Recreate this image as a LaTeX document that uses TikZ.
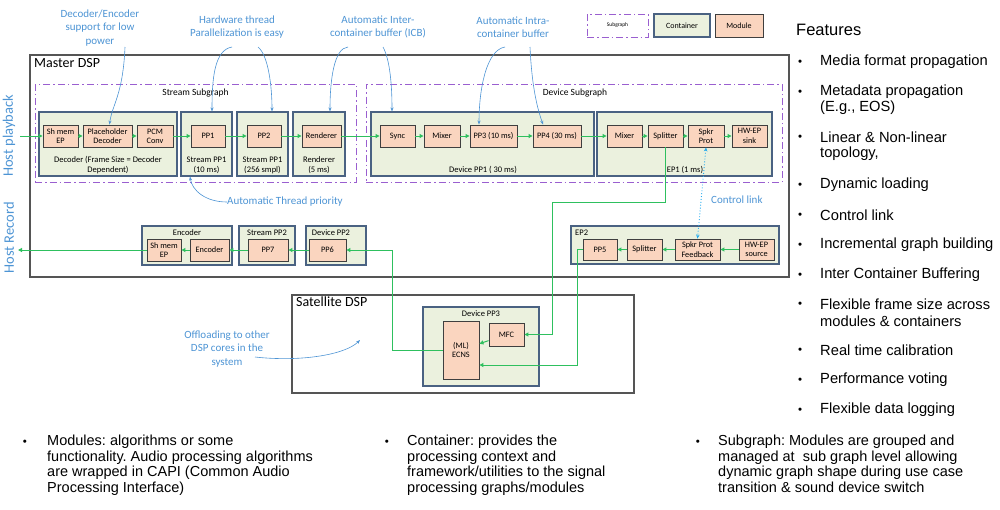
\documentclass[tikz,border=0pt]{standalone}
\usepackage{fontspec}
\setmainfont{Carlito}
\newfontfamily\arialf{Liberation Sans}
\usetikzlibrary{arrows.meta,calc}
\frenchspacing
\definecolor{contfill}{HTML}{EBF1DE}
\definecolor{contdraw}{HTML}{4A6282}
\definecolor{modfill}{HTML}{FAD5BF}
\definecolor{moddraw}{HTML}{3F3F3F}
\definecolor{sgdraw}{HTML}{9A5FD0}
\definecolor{flow}{HTML}{2EC05E}
\definecolor{note}{HTML}{4D94D4}
\definecolor{ctrl}{HTML}{22AAEE}
\definecolor{dspdraw}{HTML}{555555}
\tikzset{
  module/.style={draw=moddraw, fill=modfill, line width=0.9pt, inner sep=0pt, align=center, font=\fontsize{8.3}{9.3}\selectfont},
  container/.style={draw=contdraw, fill=contfill, line width=1.1pt, inner sep=0pt},
  subgraph/.style={draw=sgdraw, line width=1pt, dash pattern=on 7pt off 3pt on 1.5pt off 3pt, inner sep=0pt},
  dsp/.style={draw=dspdraw, line width=1.1pt, inner sep=0pt},
  lbl/.style={inner sep=0pt, align=center, font=\fontsize{8.5}{10}\selectfont},
  sglbl/.style={inner sep=0pt, align=center, font=\fontsize{9.5}{11}\selectfont},
  dsplbl/.style={inner sep=0pt, anchor=north west, font=\fontsize{14}{15}\selectfont},
  flowline/.style={draw=flow, line width=1pt, -{Triangle[length=4pt,width=4pt]}},
  noteline/.style={draw=note, line width=0.6pt, -{Stealth[length=4pt,width=3pt]}},
  notetxt/.style={text=note, inner sep=0pt, align=center, font=\fontsize{11}{13.5}\selectfont},
  hosttxt/.style={text=note, inner sep=0pt, rotate=90, font=\fontsize{14.5}{16}\selectfont},
  feat/.style={inner sep=0pt, anchor=west, font=\arialf\fontsize{14.7}{17}\selectfont},
  bul/.style={inner sep=0pt, anchor=base, font=\arialf\fontsize{11.5}{12}\selectfont},
  bot/.style={inner sep=0pt, anchor=north west, align=left, font=\arialf\fontsize{14.5}{15.5}\selectfont},
}
\begin{document}
\begin{tikzpicture}[x=1pt,y=-1pt]
\useasboundingbox (0,0) rectangle (1000,509);

% legend
\node[subgraph, minimum width=61, minimum height=23, font=\fontsize{5.5}{6}\selectfont] (lsg) at (617.5,25.5) {Subgraph};
\node[container, minimum width=56, minimum height=23, font=\fontsize{8}{9}\selectfont] (lct) at (682,25.5) {Container};
\node[module, minimum width=48, minimum height=23, font=\fontsize{8}{9}\selectfont] (lmd) at (739,25.5) {Module};

% Master DSP
\node[dsp, minimum width=759, minimum height=222] (master) at (409.5,166) {};
\node[dsplbl] (masterl) at (34,58) {Master DSP};

% subgraphs
\node[subgraph, minimum width=321, minimum height=98] (ssg) at (195.5,133) {};
\node[sglbl] (ssgl) at (195.5,93) {Stream Subgraph};
\node[subgraph, minimum width=416, minimum height=98] (dsg) at (574,133) {};
\node[sglbl] (dsgl) at (575,93) {Device Subgraph};

% containers (top row)
\node[container, minimum width=138, minimum height=64] (dec) at (108,144) {};
\node[container, minimum width=51, minimum height=64] (spp1) at (206.5,144) {};
\node[container, minimum width=51, minimum height=64] (spp1b) at (262.5,144) {};
\node[container, minimum width=52, minimum height=64] (renc) at (319,144) {};
\node[container, minimum width=223, minimum height=64] (dpp1) at (482.5,144) {};
\node[container, minimum width=175, minimum height=64] (ep1) at (684.5,144) {};

\node[lbl] (decl) at (108,165) {Decoder (Frame Size = Decoder\\Dependent)};
\node[lbl] (spp1l) at (206.5,165) {Stream PP1\\(10 ms)};
\node[lbl] (spp1bl) at (262.5,165) {Stream PP1\\(256 smpl)};
\node[lbl] (rencl) at (319,165) {Renderer\\(5 ms)};
\node[lbl] (dpp1l) at (483,170) {Device PP1 ( 30 ms)};
\node[lbl] (ep1l) at (685,170) {EP1 (1 ms)};

% modules (top row)
\node[module, minimum width=35, minimum height=22] (shm) at (60.5,136) {Sh mem\\EP};
\node[module, minimum width=49, minimum height=22] (phd) at (107.5,136) {Placeholder\\Decoder};
\node[module, minimum width=36, minimum height=22] (pcm) at (155,136) {PCM\\Conv};
\node[module, minimum width=34, minimum height=22] (pp1) at (208,136) {PP1};
\node[module, minimum width=34, minimum height=22] (pp2) at (264,136) {PP2};
\node[module, minimum width=39, minimum height=22] (ren) at (321.5,136) {Renderer};
\node[module, minimum width=35, minimum height=22] (sync) at (397.5,136) {Sync};
\node[module, minimum width=36, minimum height=22] (mix1) at (442,136) {Mixer};
\node[module, minimum width=47, minimum height=22] (pp3) at (493.5,136) {PP3 (10 ms)};
\node[module, minimum width=48, minimum height=22] (pp4) at (557,136) {PP4 (30 ms)};
\node[module, minimum width=35, minimum height=22] (mix2) at (624.5,136) {Mixer};
\node[module, minimum width=35, minimum height=22] (spl) at (665.5,136) {Splitter};
\node[module, minimum width=36, minimum height=22] (spk) at (706,136) {Spkr\\Prot};
\node[module, minimum width=35, minimum height=22] (hws) at (749.5,136) {HW-EP\\sink};

% bottom row containers
\node[container, minimum width=90, minimum height=39] (encc) at (187,245.5) {};
\node[container, minimum width=56, minimum height=39] (spp2) at (267,245.5) {};
\node[container, minimum width=60, minimum height=39] (dpp2) at (336,245.5) {};
\node[container, minimum width=208, minimum height=38] (ep2) at (675,245) {};
\node[lbl] (enccl) at (187,233) {Encoder};
\node[lbl] (spp2l) at (267,233) {Stream PP2};
\node[lbl] (dpp2l) at (331,233) {Device PP2};
\node[lbl, anchor=west] (ep2l) at (575,233) {EP2};

\node[module, minimum width=34, minimum height=22] (eshm) at (164,250) {Sh mem\\EP};
\node[module, minimum width=39, minimum height=22] (enc) at (209.5,250) {Encoder};
\node[module, minimum width=40, minimum height=22] (pp7) at (268,250) {PP7};
\node[module, minimum width=37, minimum height=22] (pp6) at (327.5,250) {PP6};
\node[module, minimum width=34, minimum height=21] (pp5) at (600,249.5) {PP5};
\node[module, minimum width=35, minimum height=21] (spl2) at (644.5,249.5) {Splitter};
\node[module, minimum width=45, minimum height=21] (spf) at (697.5,249.5) {Spkr Prot\\Feedback};
\node[module, minimum width=35, minimum height=21] (hwsrc) at (756.5,249.5) {HW-EP\\source};

% Satellite DSP
\node[dsp, minimum width=342, minimum height=98] (sat) at (463,344) {};
\node[dsplbl] (satl) at (296,297) {Satellite DSP};
\node[container, minimum width=116, minimum height=79] (dpp3) at (481,346.5) {};
\node[lbl] (dpp3l) at (481,314) {Device PP3};
\node[module, minimum width=36, minimum height=58] (ecns) at (461,350) {(ML)\\ECNS};
\node[module, minimum width=35, minimum height=23] (mfc) at (506.5,334.5) {MFC};

% host labels
\node[hosttxt] (hpl) at (9,136) {Host playback};
\node[hosttxt] (hrl) at (9,238) {Host Record};
\coordinate (hpin) at (20,136);
\coordinate (hrout) at (18,250);

% flow connectors
\draw[flowline] (hpin) -- (shm);
\foreach \a/\b in {shm/phd,phd/pcm,pcm/pp1,pp1/pp2,pp2/ren,ren/sync,sync/mix1,mix1/pp3,pp3/pp4,pp4/mix2,mix2/spl,spl/spk,spk/hws,hwsrc/spf,spf/spl2,spl2/pp5,pp6/pp7,pp7/enc,enc/eshm,mfc/ecns}
  \draw[flowline] (\a) -- (\b);
\draw[flowline] (eshm) -- (hrout);
\draw[flowline] (spl.south) -- (665.5,202) -- (552,202) |- (mfc.east);
\draw[flowline] (pp5.west) -- (577,249.5) |- ([yshift=-15pt]ecns.east);
\draw[flowline] (ecns.west) -- (392,350) |- (pp6.east);

% control link
\draw[ctrl, line width=0.9pt, dotted, {Stealth[length=4pt,width=3.5pt]}-{Stealth[length=4pt,width=3.5pt]}] (spk.south) -- (spf.north);
\node[notetxt, anchor=west] (ctl) at (711,200) {Control link};

% annotations
\node[notetxt] (n1) at (100,28) {Decoder/Encoder\\support for low\\power};
\node[notetxt] (n2) at (237,27) {Hardware thread\\Parallelization is easy};
\node[notetxt] (n3) at (378,27) {Automatic Inter-\\container buffer (ICB)};
\node[notetxt] (n4) at (513,27) {Automatic Intra-\\container buffer};
\node[notetxt, anchor=west] (n5) at (227,202) {Automatic Thread priority};
\node[notetxt] (n6) at (227,349) {Offloading to other\\DSP cores in the\\system};

\draw[noteline] (125,47) .. controls (123,95) and (112,105) .. ([xshift=2pt]phd.north);
\draw[noteline] (232,47) .. controls (214,50) and (212,80) .. ([xshift=5.5pt]spp1.north);
\draw[noteline] (258,47) .. controls (268,55) and (272,85) .. ([xshift=9.5pt]spp1b.north);
\draw[noteline] (348,47) .. controls (334,48) and (330,80) .. ([xshift=11pt]renc.north);
\draw[noteline] (383,47) .. controls (390,60) and (392,85) .. ([xshift=-90.5pt]dpp1.north);
\draw[noteline] (505,47) .. controls (486,50) and (479,90) .. ([xshift=-14.5pt]pp3.north);
\draw[noteline] (530,47) .. controls (532,90) and (538,110) .. ([xshift=-14pt]pp4.north);
\draw[noteline] (n5.west) .. controls (205,202) and (192,190) .. ([xshift=-16.5pt]spp1.south);
\draw[noteline] (255,357) .. controls (300,362) and (345,355) .. (360,340);

% features
\node[inner sep=0pt, anchor=west, font=\arialf\fontsize{16.5}{18}\selectfont] (feath) at (796,30) {Features};
\foreach \y/\t [count=\i] in {62/Media format propagation, 92/Metadata propagation, 137/Linear \& Non-linear, 185/Dynamic loading, 215/Control link, 245/Incremental graph building, 275/Inter Container Buffering, 304/Flexible frame size across, 350/Real time calibration, 380/Performance voting, 410/Flexible data logging}{
  \node[bul] (fb\i) at (800,\y+3.5) {•};
  \node[feat] (ft\i) at (820,\y) {\t};
}
\node[feat] (fc1) at (820,108) {(E.g., EOS)};
\node[feat] (fc2) at (820,154) {topology,};
\node[feat] (fc3) at (820,321) {modules \& containers};

% bottom notes
\node[bul] (b1d) at (25,445.5) {•};
\node[bot] (b1) at (47,435) {Modules: algorithms or some\\functionality. Audio processing algorithms\\are wrapped in CAPI (Common Audio\\Processing Interface)};
\node[bul] (b2d) at (387,445.5) {•};
\node[bot] (b2) at (407,435) {Container: provides the\\processing context and\\framework/utilities to the signal\\processing graphs/modules};
\node[bul] (b3d) at (698,445.5) {•};
\node[bot] (b3) at (718,435) {Subgraph: Modules are grouped and\\managed at\ \ sub graph level allowing\\dynamic graph shape during use case\\transition \& sound device switch};
\end{tikzpicture}
\end{document}
